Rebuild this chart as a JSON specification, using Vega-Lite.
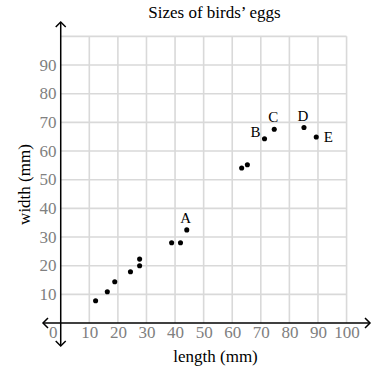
{
  "$schema": "https://vega.github.io/schema/vega-lite/v6.json",
  "width": 327,
  "height": 324,
  "autosize": {"type": "none"},
  "padding": {"left": 43, "top": 22, "right": 13, "bottom": 30},
  "title": {"text": "Sizes of birds’ eggs", "font": "Liberation Serif", "fontSize": 17, "fontWeight": "normal", "color": "black", "dx": 8, "offset": -3},
  "config": {"view": {"stroke": null}, "font": "Liberation Serif"},
  "datasets": {
    "eggs": [
      {"length": 12.2, "width": 7.8, "label": ""},
      {"length": 16.3, "width": 10.9, "label": ""},
      {"length": 18.9, "width": 14.4, "label": ""},
      {"length": 24.4, "width": 17.9, "label": ""},
      {"length": 27.6, "width": 20.0, "label": ""},
      {"length": 27.6, "width": 22.3, "label": ""},
      {"length": 38.8, "width": 28.0, "label": ""},
      {"length": 41.9, "width": 28.0, "label": ""},
      {"length": 44.1, "width": 32.5, "label": "A"},
      {"length": 63.3, "width": 54.1, "label": ""},
      {"length": 65.3, "width": 55.2, "label": ""},
      {"length": 71.3, "width": 64.3, "label": "B"},
      {"length": 74.7, "width": 67.6, "label": "C"},
      {"length": 85.1, "width": 68.2, "label": "D"},
      {"length": 89.4, "width": 64.9, "label": "E"}
    ],
    "grid": [
      {"length": 10, "length2": 10, "width": 0, "width2": 100},
      {"length": 20, "length2": 20, "width": 0, "width2": 100},
      {"length": 30, "length2": 30, "width": 0, "width2": 100},
      {"length": 40, "length2": 40, "width": 0, "width2": 100},
      {"length": 50, "length2": 50, "width": 0, "width2": 100},
      {"length": 60, "length2": 60, "width": 0, "width2": 100},
      {"length": 70, "length2": 70, "width": 0, "width2": 100},
      {"length": 80, "length2": 80, "width": 0, "width2": 100},
      {"length": 90, "length2": 90, "width": 0, "width2": 100},
      {"length": 100, "length2": 100, "width": 0, "width2": 100},
      {"length": 0, "length2": 100, "width": 10, "width2": 10},
      {"length": 0, "length2": 100, "width": 20, "width2": 20},
      {"length": 0, "length2": 100, "width": 30, "width2": 30},
      {"length": 0, "length2": 100, "width": 40, "width2": 40},
      {"length": 0, "length2": 100, "width": 50, "width2": 50},
      {"length": 0, "length2": 100, "width": 60, "width2": 60},
      {"length": 0, "length2": 100, "width": 70, "width2": 70},
      {"length": 0, "length2": 100, "width": 80, "width2": 80},
      {"length": 0, "length2": 100, "width": 90, "width2": 90},
      {"length": 0, "length2": 100, "width": 100, "width2": 100}
    ],
    "axes": [
      {"length": -6.2, "length2": 108.2, "width": 0, "width2": 0},
      {"length": 0, "length2": 0, "width": -8, "width2": 105}
    ],
    "arrows": [
      {"length": 108.2, "width": 0, "dir": "right"},
      {"length": -6.2, "width": 0, "dir": "left"},
      {"length": 0, "width": 105, "dir": "up"},
      {"length": 0, "width": -8, "dir": "down"}
    ]
  },
  "encoding": {
    "x": {
      "field": "length", "type": "quantitative",
      "scale": {"domain": [-6.2, 108.2], "nice": false, "zero": false},
      "axis": {
        "title": "length (mm)",
        "values": [0, 10, 20, 30, 40, 50, 60, 70, 80, 90, 100],
        "domain": false, "ticks": false, "tickSize": 0, "grid": false,
        "offset": -23,
        "labelFont": "Liberation Serif", "labelFontSize": 17, "labelColor": "#808080",
        "labelPadding": 1,
        "labelOffset": {"condition": {"test": "datum.value === 0", "value": -8}, "value": 0},
        "labelFlush": false, "labelOverlap": false,
        "titleFont": "Liberation Serif", "titleFontSize": 17, "titleFontWeight": "normal", "titleColor": "black",
        "titlePadding": 8, "titleX": 172
      }
    },
    "y": {
      "field": "width", "type": "quantitative",
      "scale": {"domain": [-8, 105], "nice": false, "zero": false},
      "axis": {
        "title": "width (mm)",
        "values": [10, 20, 30, 40, 50, 60, 70, 80, 90],
        "domain": false, "ticks": false, "tickSize": 0, "grid": false,
        "offset": -18,
        "labelFont": "Liberation Serif", "labelFontSize": 17, "labelColor": "#808080",
        "labelPadding": 5, "labelFlush": false, "labelOverlap": false,
        "titleFont": "Liberation Serif", "titleFontSize": 17, "titleFontWeight": "normal", "titleColor": "black",
        "titlePadding": 6
      }
    }
  },
  "layer": [
    {
      "data": {"name": "grid"},
      "mark": {"type": "rule", "color": "#d9d9d9", "strokeWidth": 1.6},
      "encoding": {
        "x2": {"field": "length2"},
        "y2": {"field": "width2"}
      }
    },
    {
      "data": {"name": "axes"},
      "mark": {"type": "rule", "color": "black", "strokeWidth": 1.5},
      "encoding": {
        "x2": {"field": "length2"},
        "y2": {"field": "width2"}
      }
    },
    {
      "data": {"name": "arrows"},
      "mark": {"type": "point", "filled": false, "stroke": "black", "strokeWidth": 1.5, "size": 100, "opacity": 1},
      "encoding": {
        "shape": {
          "field": "dir", "type": "nominal", "legend": null,
          "scale": {
            "domain": ["right", "left", "up", "down"],
            "range": ["M-1,-1L0,0L-1,1", "M1,-1L0,0L1,1", "M-1,1L0,0L1,1", "M-1,-1L0,0L1,-1"]
          }
        }
      }
    },
    {
      "data": {"name": "eggs"},
      "mark": {"type": "circle", "color": "black", "size": 26, "opacity": 1}
    },
    {
      "data": {"name": "eggs"},
      "transform": [{"filter": "datum.label === 'A' || datum.label === 'C' || datum.label === 'D'"}],
      "mark": {"type": "text", "font": "Liberation Serif", "fontSize": 15, "color": "black", "align": "center", "baseline": "middle", "dx": -1, "dy": -12},
      "encoding": {"text": {"field": "label"}}
    },
    {
      "data": {"name": "eggs"},
      "transform": [{"filter": "datum.label === 'B'"}],
      "mark": {"type": "text", "font": "Liberation Serif", "fontSize": 15, "color": "black", "align": "center", "baseline": "middle", "dx": -9, "dy": -7},
      "encoding": {"text": {"field": "label"}}
    },
    {
      "data": {"name": "eggs"},
      "transform": [{"filter": "datum.label === 'E'"}],
      "mark": {"type": "text", "font": "Liberation Serif", "fontSize": 15, "color": "black", "align": "center", "baseline": "middle", "dx": 12, "dy": 0},
      "encoding": {"text": {"field": "label"}}
    }
  ]
}
